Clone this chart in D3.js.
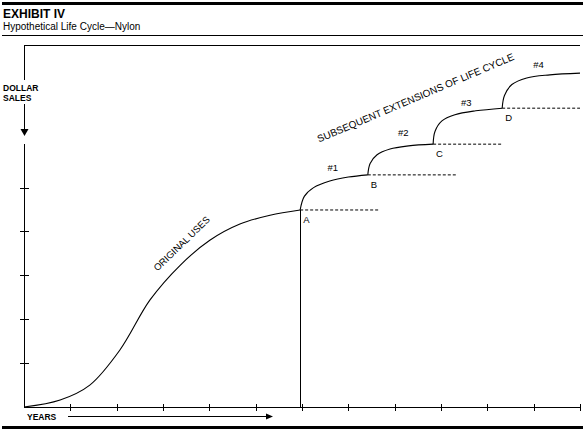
<!DOCTYPE html>
<html><head><meta charset="utf-8">
<script src="https://cdn.jsdelivr.net/npm/d3@7"></script>
<style>body{margin:0;background:#fff}text{font-family:"Liberation Sans",Arial,sans-serif;fill:#000}</style>
</head><body><svg id="c" width="585" height="435"></svg>
<script>
const years=[0,1,2,3,4,5,6,7,8,9,10,11,12];
const salesTicks=[1,2,3,4,5];
const originalT=[0,0.78,1.42,2.07,2.72,3.37,4.01,4.66,5.31,5.96];
const originalV=[0,0.16,0.50,1.30,2.44,3.23,3.80,4.17,4.37,4.49];
const ext1T=[5.96,6.05,6.25,6.6,7.0,7.42], ext1V=[4.49,4.80,5.00,5.15,5.24,5.29];
const ext2T=[7.42,7.47,7.62,7.9,8.3,8.83], ext2V=[5.29,5.55,5.75,5.88,5.95,5.99];
const ext3T=[8.83,8.87,9.02,9.3,9.75,10.32], ext3V=[5.99,6.28,6.52,6.66,6.75,6.81];
const ext4T=[10.32,10.37,10.53,10.85,11.35,12], ext4V=[6.81,7.10,7.35,7.50,7.57,7.61];
const points=["A","B","C","D"];
const pointT=[5.96,7.42,8.83,10.32], pointV=[4.49,5.29,5.99,6.81];
const dashEndT=[7.66,9.35,10.34,12];
const extLabels=["#1","#2","#3","#4"];
const extLabelT=[6.55,8.07,9.43,10.99], extLabelV=[5.37,6.17,6.85,7.72];

const svg=d3.select("#c");
const x=d3.scaleLinear().domain([0,12]).range([24,580]);
const y=d3.scaleLinear().domain([0,8.25]).range([407,45]);

svg.append("rect").attr("x",2).attr("y",2).attr("width",581).attr("height",3);
svg.append("text").attr("x",3).attr("y",18).attr("font-size",12).attr("font-weight","bold").text("EXHIBIT IV");
svg.append("text").attr("x",3).attr("y",30).attr("font-size",10).text("Hypothetical Life Cycle\u2014Nylon");
svg.append("line").attr("x1",2).attr("x2",583).attr("y1",35.5).attr("y2",35.5).attr("stroke","#000").attr("stroke-width",1);
svg.append("rect").attr("x",2).attr("y",426).attr("width",581).attr("height",3);

svg.append("line").attr("x1",24).attr("x2",580).attr("y1",45.5).attr("y2",45.5).attr("stroke","#000");
svg.append("line").attr("x1",24.5).attr("x2",24.5).attr("y1",45).attr("y2",80).attr("stroke","#000");
svg.append("line").attr("x1",24.5).attr("x2",24.5).attr("y1",104).attr("y2",130).attr("stroke","#000");
svg.append("path").attr("d","M20.5,129 L28.5,129 L24.5,136 Z");
svg.append("text").attr("x",3).attr("y",91).attr("font-size",8.5).attr("font-weight","bold").text("DOLLAR");
svg.append("text").attr("x",3).attr("y",101).attr("font-size",8.5).attr("font-weight","bold").text("SALES");

svg.append("line").attr("x1",24.5).attr("x2",24.5).attr("y1",144).attr("y2",407).attr("stroke","#000");
svg.append("line").attr("x1",24).attr("x2",580).attr("y1",407.5).attr("y2",407.5).attr("stroke","#000");
svg.selectAll(".yt").data(salesTicks).enter().append("line")
 .attr("x1",20).attr("x2",29).attr("y1",d=>Math.round(y(d))+.5).attr("y2",d=>Math.round(y(d))+.5).attr("stroke","#000");
svg.selectAll(".xt").data(years.slice(1)).enter().append("line")
 .attr("x1",d=>Math.round(x(d))+.5).attr("x2",d=>Math.round(x(d))+.5).attr("y1",404).attr("y2",411).attr("stroke","#000");
svg.append("text").attr("x",27).attr("y",420).attr("font-size",8.5).attr("font-weight","bold").text("YEARS");
svg.append("line").attr("x1",68).attr("x2",268).attr("y1",416.5).attr("y2",416.5).attr("stroke","#000");
svg.append("path").attr("d","M266,413.5 L273,416.5 L266,419.5 Z");

svg.append("line").attr("x1",Math.round(x(pointT[0]))+.5).attr("x2",Math.round(x(pointT[0]))+.5)
 .attr("y1",y(pointV[0])).attr("y2",407).attr("stroke","#000");

svg.selectAll(".dash").data(points).enter().append("line")
 .attr("x1",(d,i)=>x(pointT[i])).attr("x2",(d,i)=>x(dashEndT[i]))
 .attr("y1",(d,i)=>y(pointV[i])).attr("y2",(d,i)=>y(pointV[i]))
 .attr("stroke","#000").attr("stroke-dasharray","3,2");

const line=d3.line().x(d=>x(d[0])).y(d=>y(d[1])).curve(d3.curveCatmullRom.alpha(0.5));
[[originalT,originalV],[ext1T,ext1V],[ext2T,ext2V],[ext3T,ext3V],[ext4T,ext4V]].forEach(([t,v])=>{
 svg.append("path").attr("d",line(d3.zip(t,v))).attr("fill","none").attr("stroke","#000").attr("stroke-width",1.1);
});

svg.selectAll(".pl").data(points).enter().append("text")
 .attr("x",(d,i)=>x(pointT[i])+3).attr("y",(d,i)=>y(pointV[i])+13).attr("font-size",9.5).text(d=>d);
svg.selectAll(".el").data(extLabels).enter().append("text")
 .attr("x",(d,i)=>x(extLabelT[i])).attr("y",(d,i)=>y(extLabelV[i])).attr("font-size",9.5).text(d=>d);

svg.append("text").attr("transform","translate(184,246) rotate(-44)").attr("text-anchor","middle").attr("font-size",9.5).text("ORIGINAL USES");
svg.append("text").attr("transform","translate(417,101) rotate(-23)").attr("text-anchor","middle").attr("font-size",10).text("SUBSEQUENT EXTENSIONS OF LIFE CYCLE");
</script></body></html>
